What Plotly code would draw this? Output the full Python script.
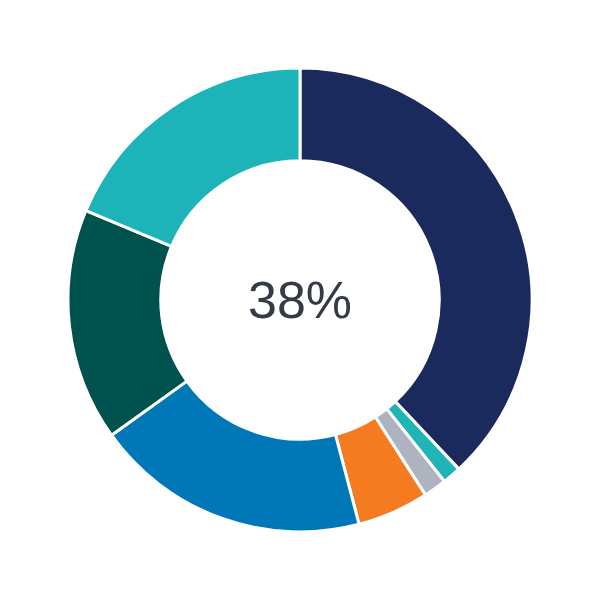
import plotly.graph_objects as go

# slices clockwise from 12 o'clock
labels = ["Segment A", "Segment B", "Segment C", "Segment D", "Segment E", "Segment F", "Segment G"]
values = [38.0, 1.3, 1.6, 5.0, 19.2, 16.2, 18.7]
colors = ["#1b2a5c", "#1fb5b7", "#adb4c0", "#f47b20", "#0077b6", "#00524f", "#1cb4b8"]
center_text = "38%"

# page has an 8px body margin, so the pie is nudged up/left to sit at 300,300
fig = go.Figure(go.Pie(
    labels=labels,
    values=values,
    sort=False,
    direction="clockwise",
    rotation=0,
    hole=0.6,
    marker=dict(colors=colors, line=dict(color="#ffffff", width=3)),
    textinfo="none",
    hoverinfo="label+percent",
    domain=dict(x=[0.1, 0.8733], y=[0.1267, 0.9]),
))

fig.add_annotation(
    x=0.4867, y=0.5133, xref="paper", yref="paper",
    text=center_text, showarrow=False,
    font=dict(family="Liberation Sans, Arial, sans-serif", size=52, color="#343a46"),
)

fig.update_layout(
    width=600, height=600,
    margin=dict(l=0, r=0, t=0, b=0),
    showlegend=False,
    paper_bgcolor="#ffffff",
    plot_bgcolor="#ffffff",
)

fig.write_html("out.html")
